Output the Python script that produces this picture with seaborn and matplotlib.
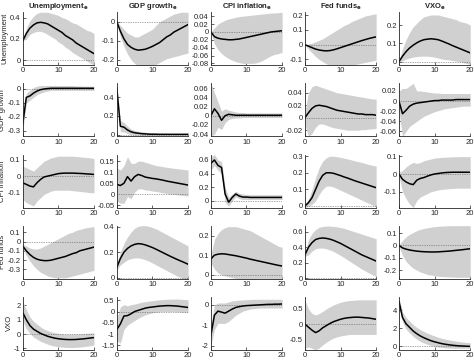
import numpy as np
import pandas as pd
import matplotlib
matplotlib.use("Agg")
import matplotlib.pyplot as plt
import seaborn as sns

horizon = list(range(21))
shocks = ["Unemployment", "GDP growth", "CPI inflation", "Fed funds", "VXO"]
responses = ["Unemployment", "GDP growth", "CPI inflation", "Fed funds", "VXO"]

# response of unemployment to each shock
unemp_med = [
    [0.18, 0.25, 0.30, 0.33, 0.35, 0.355, 0.35, 0.34, 0.32, 0.30, 0.28, 0.26, 0.23, 0.21, 0.19, 0.16, 0.14, 0.12, 0.10, 0.08, 0.06],
    [0, -0.05, -0.09, -0.12, -0.135, -0.145, -0.15, -0.148, -0.145, -0.138, -0.13, -0.12, -0.11, -0.095, -0.08, -0.07, -0.055, -0.045, -0.035, -0.025, -0.015],
    [0, -0.012, -0.016, -0.018, -0.019, -0.02, -0.02, -0.019, -0.018, -0.016, -0.014, -0.012, -0.01, -0.008, -0.006, -0.004, -0.002, 0.0, 0.001, 0.002, 0.003],
    [0, -0.01, -0.02, -0.03, -0.036, -0.04, -0.042, -0.04, -0.035, -0.028, -0.02, -0.012, -0.004, 0.004, 0.012, 0.02, 0.028, 0.035, 0.042, 0.048, 0.053],
    [0, 0.03, 0.055, 0.075, 0.09, 0.103, 0.113, 0.12, 0.123, 0.125, 0.123, 0.12, 0.113, 0.105, 0.097, 0.088, 0.08, 0.072, 0.064, 0.056, 0.048],
]
unemp_lo = [
    [0.18, 0.20, 0.24, 0.26, 0.27, 0.27, 0.26, 0.24, 0.22, 0.20, 0.17, 0.15, 0.12, 0.10, 0.07, 0.05, 0.03, 0.01, -0.01, -0.03, -0.05],
    [0, -0.08, -0.13, -0.17, -0.2, -0.22, -0.235, -0.24, -0.24, -0.235, -0.23, -0.225, -0.215, -0.205, -0.195, -0.19, -0.185, -0.18, -0.175, -0.17, -0.165],
    [0, -0.03, -0.045, -0.055, -0.062, -0.068, -0.072, -0.076, -0.078, -0.08, -0.08, -0.08, -0.08, -0.078, -0.075, -0.07, -0.065, -0.06, -0.057, -0.055, -0.052],
    [0, -0.03, -0.055, -0.08, -0.1, -0.115, -0.13, -0.14, -0.145, -0.15, -0.15, -0.15, -0.145, -0.14, -0.135, -0.13, -0.125, -0.12, -0.115, -0.11, -0.105],
    [0, 0.005, 0.015, 0.02, 0.025, 0.028, 0.03, 0.03, 0.03, 0.028, 0.025, 0.02, 0.015, 0.012, 0.01, 0.006, 0.003, 0.0, -0.005, -0.01, -0.015],
]
unemp_hi = [
    [0.18, 0.30, 0.37, 0.41, 0.44, 0.45, 0.45, 0.45, 0.44, 0.43, 0.42, 0.40, 0.39, 0.37, 0.35, 0.34, 0.32, 0.30, 0.28, 0.27, 0.25],
    [0, -0.02, -0.04, -0.06, -0.07, -0.08, -0.08, -0.07, -0.06, -0.05, -0.04, -0.02, 0.0, 0.01, 0.02, 0.03, 0.04, 0.045, 0.05, 0.05, 0.05],
    [0, 0.01, 0.02, 0.025, 0.03, 0.033, 0.035, 0.037, 0.039, 0.04, 0.041, 0.042, 0.043, 0.044, 0.045, 0.046, 0.047, 0.048, 0.048, 0.049, 0.05],
    [0, 0.005, 0.01, 0.02, 0.03, 0.04, 0.055, 0.07, 0.085, 0.1, 0.115, 0.13, 0.14, 0.155, 0.165, 0.175, 0.185, 0.195, 0.2, 0.205, 0.21],
    [0, 0.07, 0.12, 0.16, 0.19, 0.21, 0.23, 0.245, 0.25, 0.255, 0.255, 0.255, 0.25, 0.245, 0.24, 0.235, 0.23, 0.22, 0.215, 0.21, 0.2],
]

# response of GDP growth
gdp_med = [
    [-0.25, -0.06, -0.05, -0.03, -0.015, -0.005, 0.0, 0.003, 0.005, 0.005, 0.005, 0.005, 0.005, 0.005, 0.005, 0.005, 0.005, 0.005, 0.005, 0.005, 0.005],
    [0.5, 0.09, 0.08, 0.05, 0.03, 0.02, 0.015, 0.01, 0.008, 0.005, 0.004, 0.004, 0.003, 0.003, 0.003, 0.003, 0.003, 0.003, 0.003, 0.003, 0.003],
    [0.0, 0.015, 0.005, -0.01, 0.0, 0.003, 0.002, 0.001, 0.001, 0.001, 0.001, 0.001, 0.001, 0.001, 0.001, 0.001, 0.001, 0.001, 0.001, 0.001, 0.001],
    [0, 0.008, 0.015, 0.019, 0.02, 0.019, 0.018, 0.016, 0.014, 0.012, 0.011, 0.01, 0.009, 0.008, 0.007, 0.006, 0.006, 0.005, 0.005, 0.005, 0.004],
    [0, -0.025, -0.018, -0.01, -0.006, -0.004, -0.003, -0.002, -0.001, 0, 0.001, 0.001, 0.002, 0.002, 0.002, 0.002, 0.003, 0.003, 0.003, 0.003, 0.003],
]
gdp_lo = [
    [-0.3, -0.1, -0.08, -0.06, -0.04, -0.03, -0.02, -0.015, -0.01, -0.01, -0.01, -0.01, -0.01, -0.01, -0.01, -0.01, -0.01, -0.01, -0.01, -0.01, -0.01],
    [0.48, 0.03, 0.03, 0.01, 0.0, -0.005, -0.005, -0.008, -0.008, -0.008, -0.007, -0.007, -0.006, -0.006, -0.006, -0.005, -0.005, -0.005, -0.005, -0.005, -0.005],
    [-0.045, -0.04, -0.025, -0.03, -0.015, -0.008, -0.006, -0.005, -0.005, -0.004, -0.004, -0.004, -0.004, -0.004, -0.004, -0.004, -0.004, -0.004, -0.004, -0.004, -0.004],
    [-0.01, -0.03, -0.025, -0.015, -0.01, -0.01, -0.012, -0.014, -0.016, -0.017, -0.018, -0.019, -0.02, -0.02, -0.02, -0.02, -0.019, -0.019, -0.018, -0.018, -0.017],
    [-0.02, -0.07, -0.06, -0.05, -0.045, -0.04, -0.035, -0.03, -0.027, -0.024, -0.021, -0.019, -0.017, -0.015, -0.014, -0.013, -0.012, -0.011, -0.01, -0.01, -0.01],
]
gdp_hi = [
    [-0.2, -0.03, -0.01, 0.01, 0.02, 0.025, 0.025, 0.025, 0.025, 0.025, 0.025, 0.025, 0.025, 0.025, 0.025, 0.022, 0.022, 0.02, 0.02, 0.02, 0.02],
    [0.52, 0.15, 0.13, 0.09, 0.06, 0.045, 0.035, 0.03, 0.025, 0.02, 0.018, 0.016, 0.014, 0.013, 0.012, 0.011, 0.01, 0.01, 0.01, 0.01, 0.01],
    [0.07, 0.05, 0.03, 0.01, 0.015, 0.012, 0.01, 0.008, 0.007, 0.007, 0.006, 0.006, 0.006, 0.006, 0.006, 0.006, 0.006, 0.006, 0.006, 0.006, 0.006],
    [0.01, 0.04, 0.05, 0.052, 0.05, 0.048, 0.046, 0.044, 0.042, 0.04, 0.039, 0.038, 0.037, 0.036, 0.035, 0.034, 0.033, 0.032, 0.031, 0.03, 0.03],
    [0.02, 0.025, 0.025, 0.03, 0.035, 0.02, 0.02, 0.019, 0.018, 0.017, 0.016, 0.016, 0.015, 0.015, 0.015, 0.015, 0.015, 0.015, 0.015, 0.015, 0.015],
]

# response of CPI inflation
cpi_med = [
    [-0.04, -0.05, -0.06, -0.065, -0.04, -0.02, -0.005, 0.0, 0.005, 0.01, 0.015, 0.017, 0.018, 0.018, 0.018, 0.017, 0.016, 0.015, 0.013, 0.012, 0.01],
    [0.045, 0.04, 0.05, 0.08, 0.06, 0.08, 0.09, 0.085, 0.078, 0.075, 0.072, 0.07, 0.067, 0.064, 0.06, 0.057, 0.054, 0.051, 0.048, 0.045, 0.042],
    [0.55, 0.6, 0.52, 0.49, 0.1, -0.02, 0.05, 0.1, 0.07, 0.055, 0.055, 0.05, 0.05, 0.05, 0.05, 0.05, 0.05, 0.05, 0.05, 0.05, 0.05],
    [0, 0.02, 0.05, 0.1, 0.15, 0.185, 0.2, 0.2, 0.197, 0.19, 0.183, 0.175, 0.168, 0.16, 0.152, 0.145, 0.138, 0.131, 0.124, 0.117, 0.11],
    [0, -0.03, -0.045, -0.055, -0.06, -0.035, -0.025, -0.02, -0.012, -0.005, 0, 0.003, 0.006, 0.008, 0.009, 0.01, 0.01, 0.01, 0.01, 0.01, 0.01],
]
cpi_lo = [
    [-0.14, -0.16, -0.17, -0.18, -0.15, -0.13, -0.11, -0.1, -0.09, -0.085, -0.085, -0.085, -0.085, -0.085, -0.088, -0.09, -0.092, -0.095, -0.097, -0.1, -0.1],
    [-0.03, -0.04, -0.04, -0.01, -0.02, 0.01, 0.025, 0.025, 0.02, 0.018, 0.015, 0.013, 0.01, 0.007, 0.004, 0.002, 0.0, -0.002, -0.004, -0.006, -0.008],
    [0.45, 0.52, 0.45, 0.4, -0.02, -0.08, 0.0, 0.06, 0.03, 0.02, 0.02, 0.02, 0.02, 0.02, 0.02, 0.02, 0.02, 0.02, 0.02, 0.02, 0.02],
    [-0.01, 0.0, 0.01, 0.03, 0.07, 0.1, 0.12, 0.12, 0.115, 0.105, 0.095, 0.085, 0.075, 0.065, 0.055, 0.045, 0.035, 0.025, 0.015, 0.005, -0.005],
    [-0.01, -0.1, -0.14, -0.17, -0.19, -0.15, -0.13, -0.12, -0.11, -0.1, -0.095, -0.09, -0.087, -0.085, -0.083, -0.082, -0.08, -0.08, -0.08, -0.08, -0.08],
]
cpi_hi = [
    [0.06, 0.05, 0.04, 0.03, 0.05, 0.07, 0.09, 0.1, 0.11, 0.115, 0.12, 0.12, 0.12, 0.12, 0.12, 0.118, 0.116, 0.114, 0.112, 0.11, 0.105],
    [0.12, 0.11, 0.13, 0.17, 0.14, 0.14, 0.15, 0.15, 0.145, 0.14, 0.135, 0.13, 0.128, 0.125, 0.122, 0.12, 0.118, 0.116, 0.114, 0.112, 0.11],
    [0.65, 0.68, 0.6, 0.58, 0.2, 0.05, 0.1, 0.14, 0.11, 0.1, 0.095, 0.09, 0.09, 0.09, 0.09, 0.09, 0.09, 0.09, 0.09, 0.09, 0.09],
    [0.01, 0.04, 0.1, 0.17, 0.23, 0.27, 0.29, 0.3, 0.3, 0.297, 0.293, 0.288, 0.283, 0.278, 0.272, 0.267, 0.262, 0.256, 0.25, 0.245, 0.24],
    [0.01, 0.02, 0.04, 0.055, 0.065, 0.06, 0.065, 0.075, 0.08, 0.085, 0.09, 0.092, 0.094, 0.095, 0.096, 0.097, 0.097, 0.098, 0.098, 0.098, 0.098],
]

# response of Fed funds
fed_med = [
    [-0.05, -0.1, -0.14, -0.17, -0.19, -0.2, -0.205, -0.205, -0.2, -0.19, -0.18, -0.17, -0.16, -0.145, -0.13, -0.12, -0.1, -0.09, -0.08, -0.07, -0.06],
    [0.08, 0.15, 0.2, 0.23, 0.25, 0.262, 0.268, 0.265, 0.258, 0.248, 0.237, 0.224, 0.21, 0.196, 0.182, 0.168, 0.155, 0.142, 0.13, 0.118, 0.105],
    [0.08, 0.1, 0.105, 0.107, 0.106, 0.103, 0.1, 0.097, 0.093, 0.089, 0.085, 0.08, 0.076, 0.072, 0.068, 0.064, 0.06, 0.056, 0.052, 0.048, 0.045],
    [0.3, 0.4, 0.46, 0.5, 0.515, 0.52, 0.515, 0.505, 0.49, 0.47, 0.45, 0.425, 0.4, 0.375, 0.35, 0.325, 0.3, 0.28, 0.26, 0.24, 0.22],
    [0, -0.02, -0.03, -0.037, -0.042, -0.046, -0.049, -0.051, -0.052, -0.053, -0.053, -0.052, -0.05, -0.048, -0.046, -0.043, -0.04, -0.037, -0.034, -0.03, -0.027],
]
fed_lo = [
    [-0.07, -0.15, -0.21, -0.26, -0.3, -0.33, -0.35, -0.37, -0.38, -0.39, -0.39, -0.39, -0.39, -0.38, -0.37, -0.36, -0.35, -0.34, -0.33, -0.32, -0.31],
    [0.06, 0.1, 0.12, 0.14, 0.15, 0.155, 0.155, 0.15, 0.14, 0.13, 0.115, 0.1, 0.085, 0.07, 0.055, 0.04, 0.025, 0.01, 0.0, -0.01, -0.02],
    [0.06, 0.03, 0.01, 0.0, -0.005, -0.01, -0.015, -0.018, -0.02, -0.02, -0.02, -0.02, -0.02, -0.02, -0.02, -0.02, -0.02, -0.02, -0.02, -0.02, -0.02],
    [0.28, 0.3, 0.35, 0.38, 0.39, 0.39, 0.38, 0.365, 0.345, 0.32, 0.295, 0.265, 0.235, 0.205, 0.175, 0.145, 0.115, 0.09, 0.065, 0.04, 0.02],
    [-0.005, -0.08, -0.13, -0.16, -0.185, -0.2, -0.215, -0.225, -0.235, -0.24, -0.245, -0.25, -0.252, -0.254, -0.255, -0.256, -0.257, -0.258, -0.258, -0.258, -0.258],
]
fed_hi = [
    [-0.03, -0.05, -0.07, -0.08, -0.08, -0.07, -0.05, -0.03, -0.01, 0.01, 0.03, 0.05, 0.07, 0.09, 0.1, 0.12, 0.13, 0.14, 0.15, 0.155, 0.16],
    [0.1, 0.2, 0.27, 0.32, 0.36, 0.39, 0.405, 0.41, 0.41, 0.405, 0.395, 0.385, 0.37, 0.355, 0.34, 0.325, 0.31, 0.295, 0.28, 0.265, 0.25],
    [0.1, 0.18, 0.21, 0.23, 0.24, 0.245, 0.245, 0.245, 0.24, 0.235, 0.23, 0.225, 0.215, 0.205, 0.195, 0.185, 0.175, 0.165, 0.155, 0.145, 0.14],
    [0.32, 0.5, 0.58, 0.63, 0.66, 0.67, 0.675, 0.675, 0.67, 0.665, 0.655, 0.645, 0.63, 0.615, 0.6, 0.585, 0.57, 0.555, 0.54, 0.525, 0.51],
    [0.005, 0.04, 0.07, 0.09, 0.105, 0.12, 0.13, 0.138, 0.143, 0.148, 0.152, 0.155, 0.157, 0.158, 0.159, 0.16, 0.16, 0.16, 0.16, 0.16, 0.16],
]

# response of VXO
vxo_med = [
    [1.5, 1.0, 0.6, 0.35, 0.2, 0.05, -0.05, -0.15, -0.22, -0.28, -0.32, -0.35, -0.37, -0.38, -0.38, -0.37, -0.35, -0.33, -0.3, -0.27, -0.24],
    [-0.8, -0.55, -0.2, -0.18, -0.1, 0.0, 0.05, 0.1, 0.15, 0.18, 0.2, 0.22, 0.24, 0.25, 0.26, 0.26, 0.25, 0.24, 0.22, 0.2, 0.18],
    [-1.5, -0.5, -0.3, -0.35, -0.4, -0.3, -0.2, -0.12, -0.08, -0.05, -0.03, -0.02, -0.01, 0.0, 0.01, 0.02, 0.03, 0.03, 0.04, 0.04, 0.05],
    [0, -0.1, -0.2, -0.28, -0.22, -0.12, -0.05, 0.02, 0.08, 0.12, 0.16, 0.19, 0.21, 0.22, 0.23, 0.23, 0.22, 0.21, 0.2, 0.18, 0.16],
    [5.0, 3.2, 2.5, 2.1, 1.7, 1.4, 1.15, 0.95, 0.78, 0.62, 0.5, 0.4, 0.3, 0.23, 0.17, 0.12, 0.08, 0.05, 0.03, 0.01, 0.0],
]
vxo_lo = [
    [0.9, 0.4, 0.05, -0.2, -0.35, -0.5, -0.6, -0.7, -0.78, -0.84, -0.88, -0.9, -0.92, -0.93, -0.93, -0.92, -0.9, -0.87, -0.84, -0.8, -0.76],
    [-1.3, -1.4, -0.8, -0.6, -0.5, -0.4, -0.3, -0.22, -0.15, -0.1, -0.06, -0.03, -0.01, 0.0, 0.0, 0.0, 0.0, -0.01, -0.02, -0.03, -0.04],
    [-2.0, -1.2, -0.9, -0.9, -0.9, -0.8, -0.65, -0.5, -0.4, -0.3, -0.25, -0.2, -0.18, -0.16, -0.15, -0.15, -0.15, -0.15, -0.15, -0.15, -0.15],
    [-0.8, -0.75, -0.8, -0.85, -0.78, -0.68, -0.6, -0.52, -0.46, -0.42, -0.39, -0.37, -0.35, -0.34, -0.34, -0.34, -0.34, -0.34, -0.34, -0.34, -0.34],
    [4.6, 2.7, 1.9, 1.5, 1.1, 0.8, 0.55, 0.37, 0.22, 0.1, 0.0, -0.08, -0.13, -0.17, -0.2, -0.21, -0.22, -0.22, -0.22, -0.21, -0.2],
]
vxo_hi = [
    [2.3, 1.7, 1.2, 0.9, 0.7, 0.5, 0.35, 0.25, 0.15, 0.1, 0.05, 0.02, 0.0, 0.0, 0.0, 0.0, 0.02, 0.04, 0.06, 0.08, 0.1],
    [-0.3, 0.2, 0.3, 0.25, 0.3, 0.33, 0.37, 0.41, 0.44, 0.46, 0.48, 0.5, 0.52, 0.53, 0.54, 0.55, 0.55, 0.55, 0.54, 0.53, 0.52],
    [-1.0, 0.0, 0.1, 0.1, 0.1, 0.15, 0.2, 0.22, 0.24, 0.25, 0.26, 0.27, 0.28, 0.28, 0.28, 0.28, 0.28, 0.28, 0.28, 0.28, 0.28],
    [0.8, 0.5, 0.35, 0.3, 0.35, 0.42, 0.5, 0.57, 0.63, 0.68, 0.72, 0.75, 0.77, 0.78, 0.79, 0.8, 0.8, 0.8, 0.8, 0.8, 0.8],
    [5.4, 3.8, 3.2, 2.8, 2.4, 2.1, 1.85, 1.65, 1.45, 1.3, 1.15, 1.0, 0.9, 0.8, 0.72, 0.65, 0.58, 0.52, 0.47, 0.43, 0.4],
]

meds = [unemp_med, gdp_med, cpi_med, fed_med, vxo_med]
los = [unemp_lo, gdp_lo, cpi_lo, fed_lo, vxo_lo]
his = [unemp_hi, gdp_hi, cpi_hi, fed_hi, vxo_hi]

ylims = [
    [(-0.05, 0.45), (-0.23, 0.05), (-0.085, 0.05), (-0.14, 0.22), (-0.02, 0.27)],
    [(-0.34, 0.04), (-0.02, 0.55), (-0.045, 0.07), (-0.03, 0.055), (-0.07, 0.035)],
    [(-0.19, 0.13), (-0.06, 0.18), (-0.1, 0.68), (-0.01, 0.31), (-0.19, 0.11)],
    [(-0.4, 0.17), (-0.01, 0.41), (-0.02, 0.25), (-0.01, 0.68), (-0.27, 0.16)],
    [(-1.1, 2.6), (-1.7, 0.65), (-2.2, 0.4), (-0.85, 0.9), (-0.4, 5.5)],
]
yticks = [
    [[0, 0.2, 0.4], [-0.2, -0.1, 0], [-0.08, -0.06, -0.04, -0.02, 0, 0.02, 0.04], [-0.1, 0, 0.1, 0.2], [0, 0.1, 0.2]],
    [[-0.3, -0.2, -0.1, 0], [0, 0.2, 0.4], [-0.04, -0.02, 0, 0.02, 0.04, 0.06], [-0.02, 0, 0.02, 0.04], [-0.06, -0.04, -0.02, 0, 0.02]],
    [[-0.1, 0, 0.1], [-0.05, 0, 0.05, 0.1, 0.15], [0, 0.2, 0.4, 0.6], [0, 0.1, 0.2, 0.3], [-0.1, 0, 0.1]],
    [[-0.3, -0.2, -0.1, 0, 0.1], [0, 0.2, 0.4], [0, 0.1, 0.2], [0, 0.2, 0.4, 0.6], [-0.2, -0.1, 0, 0.1]],
    [[-1, 0, 1, 2], [-1.5, -1, -0.5, 0, 0.5], [-2, -1, 0], [-0.5, 0, 0.5], [0, 2, 4]],
]

sns.set_style("ticks")
plt.rcParams["font.family"] = ["Liberation Sans", "DejaVu Sans"]
plt.rcParams["font.size"] = 5.5

fig, axes = plt.subplots(5, 5, figsize=(4.74, 3.6), dpi=100)
fig.subplots_adjust(left=0.048, right=0.992, top=0.966, bottom=0.028, wspace=0.32, hspace=0.34)

for i in range(5):
    for j in range(5):
        ax = axes[i, j]
        df = pd.DataFrame({"h": horizon, "med": meds[i][j], "lo": los[i][j], "hi": his[i][j]})
        ax.fill_between(df["h"], df["lo"], df["hi"], color="#d0d0d0", lw=0)
        ax.axhline(0, color="#555555", ls=(0, (1, 1.5)), lw=0.5)
        sns.lineplot(data=df, x="h", y="med", ax=ax, color="black", lw=1.1)
        ax.set_xlim(0, 20)
        ax.set_ylim(*ylims[i][j])
        ax.set_xticks([0, 10, 20])
        ax.set_yticks(yticks[i][j])
        ax.set_yticklabels([f"{t:g}" for t in yticks[i][j]])
        ax.tick_params(direction="in", length=2, width=0.5, pad=1.5, labelsize=5.5)
        for s in ["top", "right"]:
            ax.spines[s].set_visible(False)
        for s in ["left", "bottom"]:
            ax.spines[s].set_linewidth(0.6)
        ax.set_xlabel("")
        ax.set_ylabel(responses[i] if j == 0 else "", fontsize=5.5, labelpad=1)
        if i == 0:
            ax.set_title(shocks[j] + r"$_{\mathbf{e}}$", fontsize=5.5, fontweight="bold", pad=1.5)

fig.savefig("out.png", dpi=100)
